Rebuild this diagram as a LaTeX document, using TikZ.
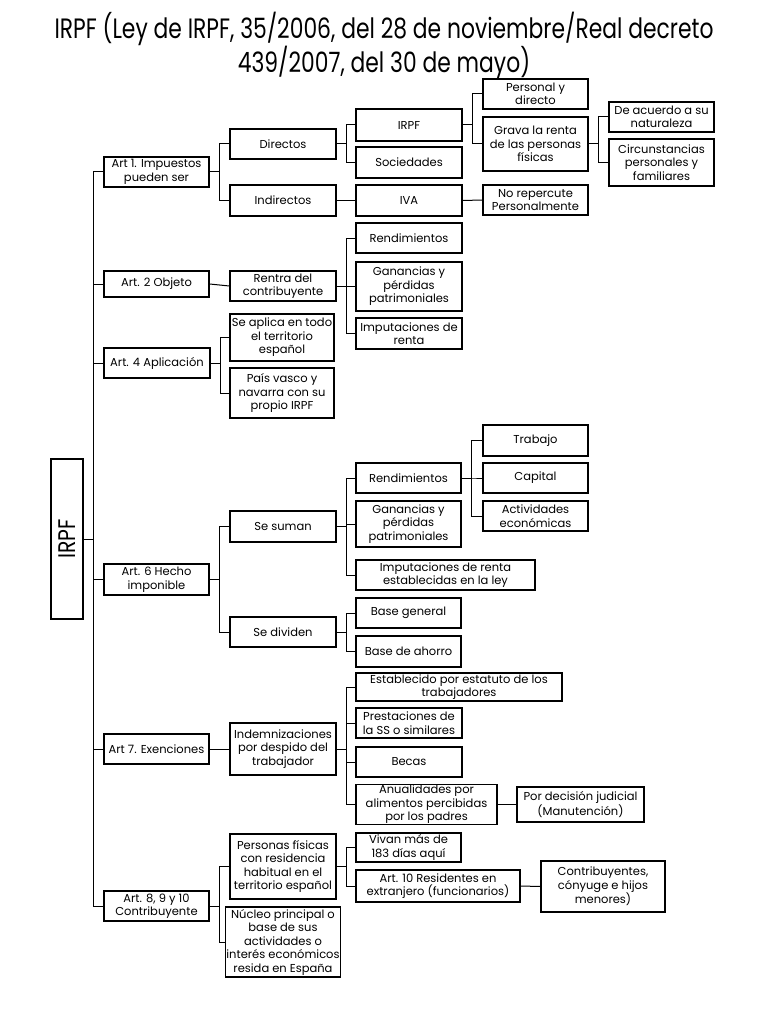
\documentclass[tikz,border=0pt]{standalone}
\usepackage{fontspec}
\setmainfont{Poppins}
\newfontfamily\titlefont[FakeStretch=0.78]{Poppins}
\newfontfamily\irpffont[FakeStretch=0.85]{Poppins}
\tikzset{
  box/.style={draw=black, line width=1.1pt, fill=white, align=center, inner sep=1pt,
    font=\fontsize{11.5}{13.5}\selectfont},
  link/.style={draw=black, line width=1pt},
}
\newcommand\bx[6]{\node[box, minimum width={(#4-#2)*1pt}, minimum height={(#5-#3)*1pt}] (#1) at ({(#2+#4)/2},{(#3+#5)/2}) {#6};}
\newcommand\fork[2]{\draw[link] (#1.east) -- ++(10,0) |- (#2.west);}
\newcommand\tie[2]{\draw[link] (#1.east) -- (#2.west);}
\begin{document}
\begin{tikzpicture}[x=1pt,y=-1pt]
\useasboundingbox (0,0) rectangle (768,1024);
\fill[white] (0,0) rectangle (768,1024);
\node[font=\titlefont\fontsize{28}{25}\selectfont, align=center] (title) at (384,46)
  {IRPF (Ley de IRPF, 35/2006, del 28 de noviembre/Real decreto\\439/2007, del 30 de mayo)};
% root
\node[draw=black, line width=1.1pt, rotate=90, minimum width=160pt, minimum height=32pt, inner sep=0pt,
  font=\irpffont\fontsize{24}{24}\selectfont] (irpf) at (67,539) {IRPF};
% Art 1
\bx{art1}{104}{157}{209}{187}{Art 1. Impuestos\\pueden ser}
\bx{directos}{230}{129}{336}{159}{Directos}
\bx{indirectos}{230}{185}{336}{216}{Indirectos}
\bx{irpfb}{356}{109}{462}{141}{IRPF}
\bx{sociedades}{356}{147}{462}{178}{Sociedades}
\bx{iva}{356}{185}{462}{216}{IVA}
\bx{personal}{483}{79}{588}{109}{Personal y\\directo}
\bx{grava}{483}{117}{588}{171}{Grava la renta\\de las personas\\físicas}
\bx{acuerdo}{609}{102}{714}{132}{De acuerdo a su\\naturaleza}
\bx{circ}{609}{139}{714}{186}{Circunstancias\\personales y\\familiares}
\bx{norep}{483}{185}{588}{215}{No repercute\\Personalmente}
% Art 2
\bx{art2}{104}{271}{209}{297}{Art. 2 Objeto}
\bx{rentra}{230}{271}{336}{301}{Rentra del\\contribuyente}
\bx{rendA}{356}{223}{462}{253}{Rendimientos}
\bx{ganA}{356}{262}{462}{311}{Ganancias y\\pérdidas\\patrimoniales}
\bx{impA}{356}{318}{462}{349}{Imputaciones de\\renta}
% Art 4
\bx{art4}{104}{348}{210}{378}{Art. 4 Aplicación}
\bx{seaplica}{230}{314}{334}{361}{Se aplica en todo\\el territorio\\español}
\bx{pais}{230}{368}{334}{418}{País vasco y\\navarra con su\\propio IRPF}
% Art 6
\bx{art6}{104}{564}{209}{595}{Art. 6 Hecho\\imponible}
\bx{sesuman}{230}{511}{336}{542}{Se suman}
\bx{sedividen}{230}{617}{336}{647}{Se dividen}
\bx{rendB}{356}{463}{461}{493}{Rendimientos}
\bx{ganB}{356}{501}{461}{547}{Ganancias y\\pérdidas\\patrimoniales}
\bx{impB}{356}{560}{535}{590}{Imputaciones de renta\\establecidas en la ley}
\bx{trabajo}{483}{425}{588}{456}{Trabajo}
\bx{capital}{483}{463}{588}{493}{Capital}
\bx{activ}{483}{501}{588}{531}{Actividades\\económicas}
\bx{basegen}{356}{598}{461}{628}{Base general}
\bx{baseah}{356}{636}{461}{667}{Base de ahorro}
% Art 7
\bx{art7}{104}{734}{209}{764}{Art 7. Exenciones}
\bx{indem}{230}{723}{336}{775}{Indemnizaciones\\por despido del\\trabajador}
\bx{estab}{356}{673}{562}{701}{Establecido por estatuto de los\\trabajadores}
\bx{prest}{356}{708}{462}{738}{Prestaciones de\\la SS o similares}
\bx{becas}{356}{747}{462}{777}{Becas}
\bx{anual}{356}{785}{497}{824}{Anualidades por\\alimentos percibidas\\por los padres}
\bx{judicial}{517}{787}{644}{822}{Por decisión judicial\\(Manutención)}
% Art 8
\bx{art8}{104}{891}{209}{921}{Art. 8, 9 y 10\\Contribuyente}
\bx{personas}{230}{834}{336}{899}{Personas físicas\\con residencia\\habitual en el\\territorio español}
\bx{nucleo}{230}{907}{336}{977}{Núcleo principal o\\base de sus\\actividades o\\interés económicos\\resida en España}
\bx{vivan}{356}{833}{461}{862}{Vivan más de\\183 días aquí}
\bx{art10}{356}{870}{520}{902}{Art. 10 Residentes en\\extranjero (funcionarios)}
\bx{contrib}{541}{861}{665}{912}{Contribuyentes,\\cónyuge e hijos\\menores)}
% main trunk
\foreach \a in {art1,art2,art4,art6,art7,art8} {\draw[link] (irpf.south) -- ++(10,0) |- (\a.west);}
% forks
\fork{art1}{directos}\fork{art1}{indirectos}
\fork{directos}{irpfb}\fork{directos}{sociedades}
\tie{indirectos}{iva}\tie{iva}{norep}
\fork{irpfb}{personal}\fork{irpfb}{grava}
\fork{grava}{acuerdo}\fork{grava}{circ}
\tie{art2}{rentra}
\fork{rentra}{rendA}\fork{rentra}{ganA}\fork{rentra}{impA}
\fork{art4}{seaplica}\fork{art4}{pais}
\fork{art6}{sesuman}\fork{art6}{sedividen}
\fork{sesuman}{rendB}\fork{sesuman}{ganB}\fork{sesuman}{impB}
\fork{rendB}{trabajo}\fork{rendB}{capital}\fork{rendB}{activ}
\fork{sedividen}{basegen}\fork{sedividen}{baseah}
\tie{art7}{indem}
\fork{indem}{estab}\fork{indem}{prest}\fork{indem}{becas}\fork{indem}{anual}
\tie{anual}{judicial}
\fork{art8}{personas}\fork{art8}{nucleo}
\fork{personas}{vivan}\fork{personas}{art10}
\tie{art10}{contrib}
\end{tikzpicture}
\end{document}
